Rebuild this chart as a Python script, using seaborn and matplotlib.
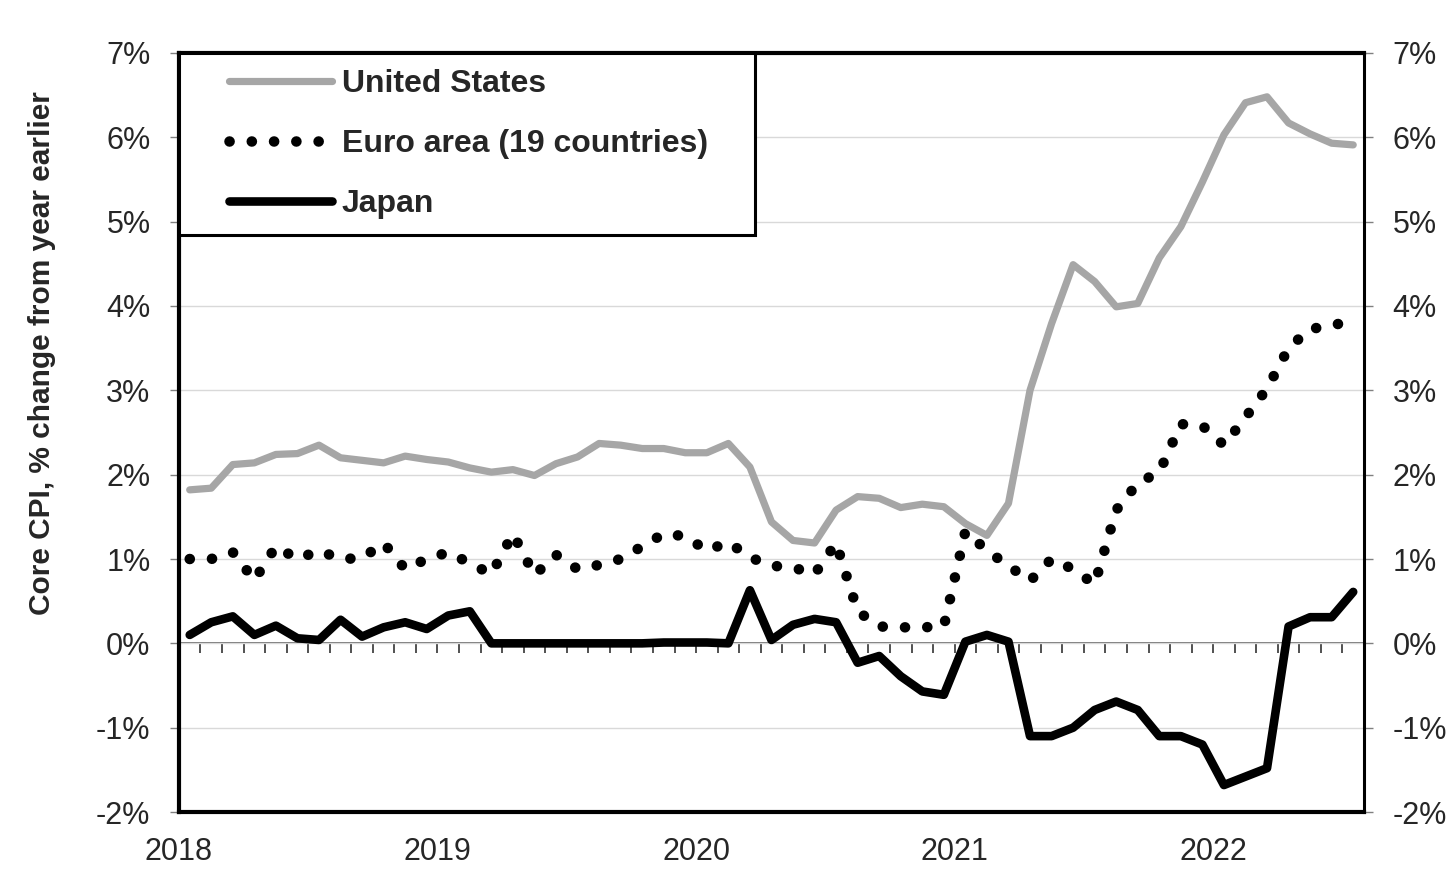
import numpy as np
import matplotlib
matplotlib.use('Agg')
import matplotlib.pyplot as plt
from matplotlib.legend_handler import HandlerLine2D
import seaborn as sns

# Monthly core CPI, % change from a year earlier, Jan 2018 - Jul 2022
years = ['2018', '2019', '2020', '2021', '2022']
us = [1.82, 1.84, 2.12, 2.14, 2.24, 2.25, 2.35, 2.20, 2.17, 2.14, 2.22, 2.18,
      2.15, 2.08, 2.03, 2.06, 1.99, 2.13, 2.21, 2.37, 2.35, 2.31, 2.31, 2.26,
      2.26, 2.37, 2.09, 1.44, 1.22, 1.19, 1.58, 1.74, 1.72, 1.61, 1.65, 1.62,
      1.42, 1.28, 1.66, 3.00, 3.79, 4.49, 4.29, 3.99, 4.03, 4.57, 4.94, 5.47,
      6.03, 6.41, 6.48, 6.17, 6.04, 5.93, 5.91]
euro = [1.00, 1.00, 1.08, 0.75, 1.15, 1.00, 1.10, 1.00, 1.01, 1.19, 0.88, 1.00,
        1.08, 0.95, 0.82, 1.30, 0.81, 1.05, 0.88, 0.93, 1.00, 1.15, 1.30, 1.27,
        1.10, 1.20, 1.02, 0.92, 0.90, 0.82, 1.19, 0.38, 0.20, 0.19, 0.19, 0.20,
        1.33, 1.10, 0.92, 0.74, 1.00, 0.88, 0.70, 1.58, 1.90, 2.03, 2.60, 2.58,
        2.35, 2.68, 3.02, 3.50, 3.73, 3.76, 3.85]
japan = [0.10, 0.25, 0.32, 0.10, 0.21, 0.06, 0.04, 0.28, 0.08, 0.19, 0.25, 0.17,
         0.33, 0.38, 0.00, 0.00, 0.00, 0.00, 0.00, 0.00, 0.00, 0.00, 0.01, 0.01,
         0.01, 0.00, 0.63, 0.04, 0.22, 0.29, 0.25, -0.23, -0.15, -0.39, -0.57, -0.61,
         0.02, 0.10, 0.02, -1.10, -1.10, -1.00, -0.79, -0.69, -0.79, -1.10, -1.10, -1.20,
         -1.68, -1.58, -1.48, 0.20, 0.31, 0.31, 0.61]
y_ticks = [-2, -1, 0, 1, 2, 3, 4, 5, 6, 7]

month = np.arange(len(us))


class LeadHandler(HandlerLine2D):
    # leaves an empty gap before the legend line sample
    def create_artists(self, legend, orig_handle, xdescent, ydescent,
                       width, height, fontsize, trans):
        lead = 1.06 * fontsize
        return super().create_artists(legend, orig_handle, xdescent - lead, ydescent,
                                      width - lead, height, fontsize, trans)


sns.set_style('white')
plt.rcParams['font.family'] = ['Liberation Sans', 'DejaVu Sans']

fig, ax = plt.subplots(figsize=(14.56, 8.74), dpi=100)
fig.subplots_adjust(left=0.1229, right=0.9368, top=0.9394, bottom=0.0709)

sns.lineplot(x=month, y=us, ax=ax, color='#a6a6a6', lw=5.2, label='United States',
             solid_joinstyle='round', solid_capstyle='round')
sns.lineplot(x=month, y=euro, ax=ax, color='black', lw=7.6, linestyle=(0, (0.01, 2.1)),
             dash_capstyle='round', label='Euro area (19 countries)')
sns.lineplot(x=month, y=japan, ax=ax, color='black', lw=6.2, label='Japan',
             solid_joinstyle='round', solid_capstyle='round')

ax.set_xlim(-0.5, len(us) - 0.5)
ax.set_ylim(y_ticks[0], y_ticks[-1])
ax.set_yticks(y_ticks, [f'{v}%' for v in y_ticks])
ax.set_xticks(np.arange(len(years)) * 12 - 0.5, years)
ax.grid(axis='y', color='#d9d9d9', lw=1)
ax.grid(axis='x', visible=False)
ax.set_axisbelow(True)
ax.set_xlabel('')
ax.set_ylabel('')

ax.tick_params(axis='y', left=True, right=True, labelleft=True, labelright=True,
               direction='out', length=6.5, width=1, color='#808080',
               labelsize=22, pad=14)
ax.tick_params(axis='x', length=0, pad=18, labelsize=22)

for side in ['left', 'top', 'bottom']:
    ax.spines[side].set_linewidth(3)
    ax.spines[side].set_color('black')
ax.spines['right'].set_linewidth(2.2)
ax.spines['right'].set_color('black')

# zero line with month separators
zero_pos = (0 - y_ticks[0]) / (y_ticks[-1] - y_ticks[0])
sec = ax.secondary_xaxis(zero_pos)
sec.set_xticks(month[:-1] + 0.5)
sec.tick_params(direction='out', length=7, width=1.2, color='#333333', labelbottom=False)
sec.spines['bottom'].set_color('#595959')
sec.spines['bottom'].set_linewidth(1.2)

leg = ax.legend(loc='upper left', bbox_to_anchor=(0, 0, 0.486, 1), mode='expand',
                borderaxespad=0, borderpad=0.5, labelspacing=0.94,
                handlelength=4.3, handletextpad=0.3, fancybox=False,
                prop={'weight': 'bold', 'size': 23},
                handler_map={matplotlib.lines.Line2D: LeadHandler()})
leg.get_frame().set_edgecolor('black')
leg.get_frame().set_linewidth(2.2)
leg.get_frame().set_alpha(1)

fig.text(0.029, 0.5955, 'Core CPI, % change from year earlier', rotation=90,
         ha='center', va='center', fontsize=21.5, fontweight='bold')

fig.savefig('out.png', dpi=100)
